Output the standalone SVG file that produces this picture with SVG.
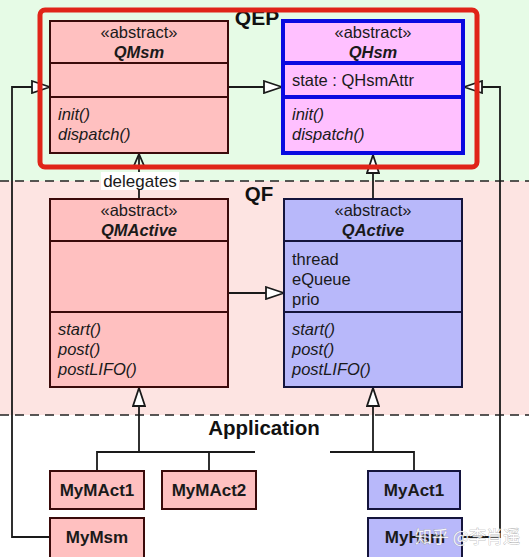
<svg xmlns="http://www.w3.org/2000/svg" width="529" height="557" viewBox="0 0 529 557">
<defs>
<style>
.t{font-family:"Liberation Sans",Arial,sans-serif;font-size:16.5px;fill:#1a1a1a}
.c{text-anchor:middle}
.bi{font-weight:bold;font-style:italic}
.i{font-style:italic}
.b{font-weight:bold;font-size:17px}
.sec{font-family:"Liberation Sans",Arial,sans-serif;font-size:20.5px;font-weight:bold;fill:#111;text-anchor:middle}
.pink{fill:#ffc0c0;stroke:#3a0a0a;stroke-width:2}
.blue{fill:#b8b8fa;stroke:#14143c;stroke-width:2}
.ln{fill:none;stroke:#1a1a1a;stroke-width:1.8}
.dash{stroke:#222;stroke-width:1.6;stroke-dasharray:9,6}
</style>
<marker id="tri" viewBox="0 0 20 14" refX="19" refY="7" markerWidth="20" markerHeight="14" markerUnits="userSpaceOnUse" orient="auto">
<path d="M1,1 L19,7 L1,13 Z" fill="#fff" stroke="#1a1a1a" stroke-width="1.8"/>
</marker>
<marker id="open" viewBox="0 0 16 14" refX="15" refY="7" markerWidth="16" markerHeight="14" markerUnits="userSpaceOnUse" orient="auto">
<path d="M1,1 L15,7 L1,13" fill="none" stroke="#1a1a1a" stroke-width="1.8"/>
</marker>
</defs>
<rect x="0" y="0" width="529" height="181" fill="#e6fbe6"/>
<rect x="0" y="181" width="529" height="234" fill="#fde4e2"/>
<rect x="0" y="415" width="529" height="142" fill="#ffffff"/>
<line class="dash" x1="0" y1="181" x2="529" y2="181"/>
<line class="dash" x1="0" y1="415" x2="529" y2="415"/>
<text class="sec" x="257" y="25" style="font-size:21px">QEP</text>
<text class="sec" x="259" y="201">QF</text>
<text class="sec" x="264" y="435">Application</text>
<g id="connectors">
<line class="ln" x1="228" y1="87" x2="282" y2="87" marker-end="url(#tri)"/>
<polyline class="ln" points="50,537 12,537 12,87 50,87" marker-end="url(#tri)"/>
<polyline class="ln" points="462,537 500,537 500,87 464,87" marker-end="url(#tri)"/>
<line class="ln" x1="139" y1="199" x2="139" y2="154" marker-end="url(#open)"/>
<line class="ln" x1="373" y1="199" x2="373" y2="155" marker-end="url(#tri)"/>
<line class="ln" x1="228" y1="293" x2="284" y2="293" marker-end="url(#tri)"/>
<line class="ln" x1="139" y1="452" x2="139" y2="388" marker-end="url(#tri)"/>
<polyline class="ln" points="97,471 97,452 255,452"/>
<line class="ln" x1="209" y1="452" x2="209" y2="471"/>
<line class="ln" x1="373" y1="452" x2="373" y2="388" marker-end="url(#tri)"/>
<polyline class="ln" points="330,452 414,452 414,471"/>
<rect x="101" y="172" width="78" height="18" fill="#ffffff"/>
<text class="t c" x="140" y="187" style="font-size:17px">delegates</text>
</g>
<g id="QMsm">
<rect class="pink" x="50" y="21" width="178" height="132"/>
<line x1="50" y1="63" x2="228" y2="63" stroke="#3a0a0a" stroke-width="2"/>
<line x1="50" y1="97" x2="228" y2="97" stroke="#3a0a0a" stroke-width="2"/>
<text class="t c" x="139" y="38">«abstract»</text>
<text class="t c bi" x="139" y="58">QMsm</text>
<text class="t i" x="58" y="120">init()</text>
<text class="t i" x="58" y="140">dispatch()</text>
</g>
<g id="QHsm">
<rect x="283" y="21" width="180" height="132" fill="#ffc0ff" stroke="#0a0ae0" stroke-width="4"/>
<line x1="283" y1="63" x2="463" y2="63" stroke="#0a0ae0" stroke-width="4"/>
<line x1="283" y1="97" x2="463" y2="97" stroke="#0a0ae0" stroke-width="4"/>
<text class="t c" x="373" y="38">«abstract»</text>
<text class="t c bi" x="373" y="58">QHsm</text>
<text class="t" x="292" y="86">state : QHsmAttr</text>
<text class="t i" x="292" y="120">init()</text>
<text class="t i" x="292" y="140">dispatch()</text>
</g>
<rect x="40" y="10" width="437" height="157" rx="5" fill="none" stroke="#e02418" stroke-width="5"/>
<g id="QMActive">
<rect class="pink" x="50" y="199" width="178" height="188"/>
<line x1="50" y1="241" x2="228" y2="241" stroke="#3a0a0a" stroke-width="2"/>
<line x1="50" y1="312" x2="228" y2="312" stroke="#3a0a0a" stroke-width="2"/>
<text class="t c" x="139" y="216">«abstract»</text>
<text class="t c bi" x="139" y="236">QMActive</text>
<text class="t i" x="58" y="335">start()</text>
<text class="t i" x="58" y="355">post()</text>
<text class="t i" x="58" y="375">postLIFO()</text>
</g>
<g id="QActive">
<rect class="blue" x="284" y="199" width="178" height="188"/>
<line x1="284" y1="241" x2="462" y2="241" stroke="#14143c" stroke-width="2"/>
<line x1="284" y1="312" x2="462" y2="312" stroke="#14143c" stroke-width="2"/>
<text class="t c" x="373" y="216">«abstract»</text>
<text class="t c bi" x="373" y="236">QActive</text>
<text class="t" x="292" y="265">thread</text>
<text class="t" x="292" y="285">eQueue</text>
<text class="t" x="292" y="305">prio</text>
<text class="t i" x="292" y="335">start()</text>
<text class="t i" x="292" y="355">post()</text>
<text class="t i" x="292" y="375">postLIFO()</text>
</g>
<g id="MyMAct1">
<rect class="pink" x="50" y="471" width="94" height="38"/>
<text class="t c b" x="97" y="496">MyMAct1</text>
</g>
<g id="MyMAct2">
<rect class="pink" x="162" y="471" width="94" height="38"/>
<text class="t c b" x="209" y="496">MyMAct2</text>
</g>
<g id="MyMsm">
<rect class="pink" x="50" y="518" width="94" height="40"/>
<text class="t c b" x="97" y="543">MyMsm</text>
</g>
<g id="MyAct1">
<rect class="blue" x="368" y="471" width="92" height="38"/>
<text class="t c b" x="414" y="496">MyAct1</text>
</g>
<g id="MyHsm">
<rect class="blue" x="368" y="518" width="94" height="40"/>
<text class="t c b" x="415" y="543">MyHsm</text>
</g>
<text x="415" y="543" style="font-family:'Noto Sans CJK SC',sans-serif;font-size:17px;fill:#ffffff;stroke:#9a9a9a;stroke-width:0.6;paint-order:stroke;opacity:0.85">知乎 @李肖遥</text>
</svg>
